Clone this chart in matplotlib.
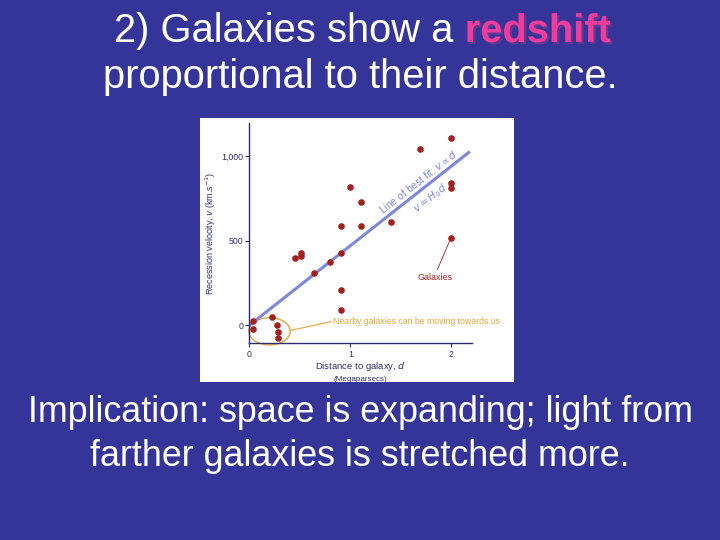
import matplotlib
matplotlib.use("Agg")
import matplotlib.pyplot as plt
import matplotlib.patheffects as pe
from matplotlib.patches import Ellipse

# galaxy distances (Mpc) and recession velocities (km/s)
distance = [0.04, 0.04, 0.22, 0.27, 0.28, 0.28, 0.45, 0.51, 0.51, 0.64, 0.80,
            0.91, 0.91, 0.91, 0.91, 1.00, 1.10, 1.10, 1.40, 1.69, 2.00, 2.00,
            2.00, 2.00]
velocity = [25, -20, 47, 2, -37, -75, 396, 429, 407, 307, 374,
            429, 589, 209, 89, 815, 730, 589, 610, 1039, 1106, 839,
            809, 516]

fit_d = [0.0, 2.17]
fit_v = [0, 1020]

y_ticks = [0, 500, 1000]
y_tick_labels = ["0", "500", "1,000"]
x_ticks = [0, 1, 2]
x_tick_labels = ["0", "1", "2"]

BG = "#353599"
AXIS_COL = "#2d2d6e"
DOT = "#a3201f"
LINE = "#7d88dc"
ORANGE = "#eaa53c"

plt.rcParams['font.family'] = ['Liberation Sans', 'DejaVu Sans']

fig = plt.figure(figsize=(7.2, 5.4), dpi=100)
fig.patch.set_facecolor(BG)

# white inset panel behind the chart
panel = fig.add_axes([200 / 720, 1 - 382 / 540, 314 / 720, 264 / 540])
panel.set_facecolor("white")
panel.set_xticks([])
panel.set_yticks([])
for s in panel.spines.values():
    s.set_visible(False)

ax = fig.add_axes([249.3 / 720, 1 - 343.3 / 540, 222.4 / 720, 220.3 / 540])
ax.set_facecolor("none")
ax.set_xlim(0, 2.2)
ax.set_ylim(-106, 1194)
for s in ["top", "right"]:
    ax.spines[s].set_visible(False)
for s in ["left", "bottom"]:
    ax.spines[s].set_color(AXIS_COL)
    ax.spines[s].set_linewidth(1.0)

ax.set_yticks(y_ticks)
ax.set_yticklabels(y_tick_labels)
ax.set_xticks(x_ticks)
ax.set_xticklabels(x_tick_labels)
ax.tick_params(colors=AXIS_COL, labelsize=6.3, length=3, width=0.8, pad=1.5)

ax.set_ylabel("Recession velocity, $v$ (km.s$^{-1}$)", fontsize=6.5,
              color=AXIS_COL, labelpad=2)
ax.set_xlabel("Distance to galaxy, $d$", fontsize=6.8, color=AXIS_COL, labelpad=1)
ax.text(0.5, -0.15, "(Megaparsecs)", transform=ax.transAxes, fontsize=5.8,
        color=AXIS_COL, ha="center", va="top")

ax.plot(fit_d, fit_v, color=LINE, lw=2.2, zorder=2)
ax.scatter(distance, velocity, s=14, color=DOT, zorder=3)

ax.text(1.67, 848, "Line of best fit: $v \\propto d$", rotation=38,
        rotation_mode="anchor", ha="center", va="center", fontsize=7.5,
        color=LINE)
ax.text(1.79, 748, "$v = H_0 d$", rotation=38, rotation_mode="anchor",
        ha="center", va="center", fontsize=7.5, color=LINE)

ax.add_patch(Ellipse((0.2, -35), 0.41, 161, fill=False, edgecolor=ORANGE,
                     lw=1.0, clip_on=False))
ax.plot([0.41, 0.81], [-30, 22], color=ORANGE, lw=0.8, clip_on=False)
ax.text(0.83, 20, "Nearby galaxies can be moving towards us", fontsize=6.3,
        color=ORANGE, va="center", ha="left", clip_on=False)

ax.plot([1.86, 1.98], [329, 495], color=DOT, lw=0.6)
ax.text(1.84, 280, "Galaxies", fontsize=6.5, color=DOT, ha="center", va="center")

# title, with the coloured word (soft shadow under it)
TOP = 28.7
t1 = fig.text(0, 1 - 31 / 540, "2) Galaxies show a ", fontsize=TOP, color="white",
              va="center", ha="left")
t2 = fig.text(0, 1 - 31 / 540, "redshift", fontsize=TOP, color="#ee3c9c",
              fontweight="bold", va="center", ha="left",
              path_effects=[pe.SimplePatchShadow(offset=(1.5, -1.5),
                                                 shadow_rgbFace="#6a3a8e",
                                                 alpha=0.9),
                            pe.Normal()])
fig.canvas.draw()
r = fig.canvas.get_renderer()
w1 = t1.get_window_extent(r).width
w2 = t2.get_window_extent(r).width
x0 = 362.5 - (w1 + w2) / 2
t1.set_x(x0 / 720)
t2.set_x((x0 + w1) / 720)

fig.text(0.5, 1 - 77 / 540, "proportional to their distance.", fontsize=TOP,
         color="white", ha="center", va="center")

BOT = 25.8
fig.text(0.5, 1 - 413 / 540, "Implication: space is expanding; light from",
         fontsize=BOT, color="white", ha="center", va="center")
fig.text(0.5, 1 - 457 / 540, "farther galaxies is stretched more.",
         fontsize=BOT, color="white", ha="center", va="center")

fig.savefig("out.png", dpi=100, facecolor=BG)
